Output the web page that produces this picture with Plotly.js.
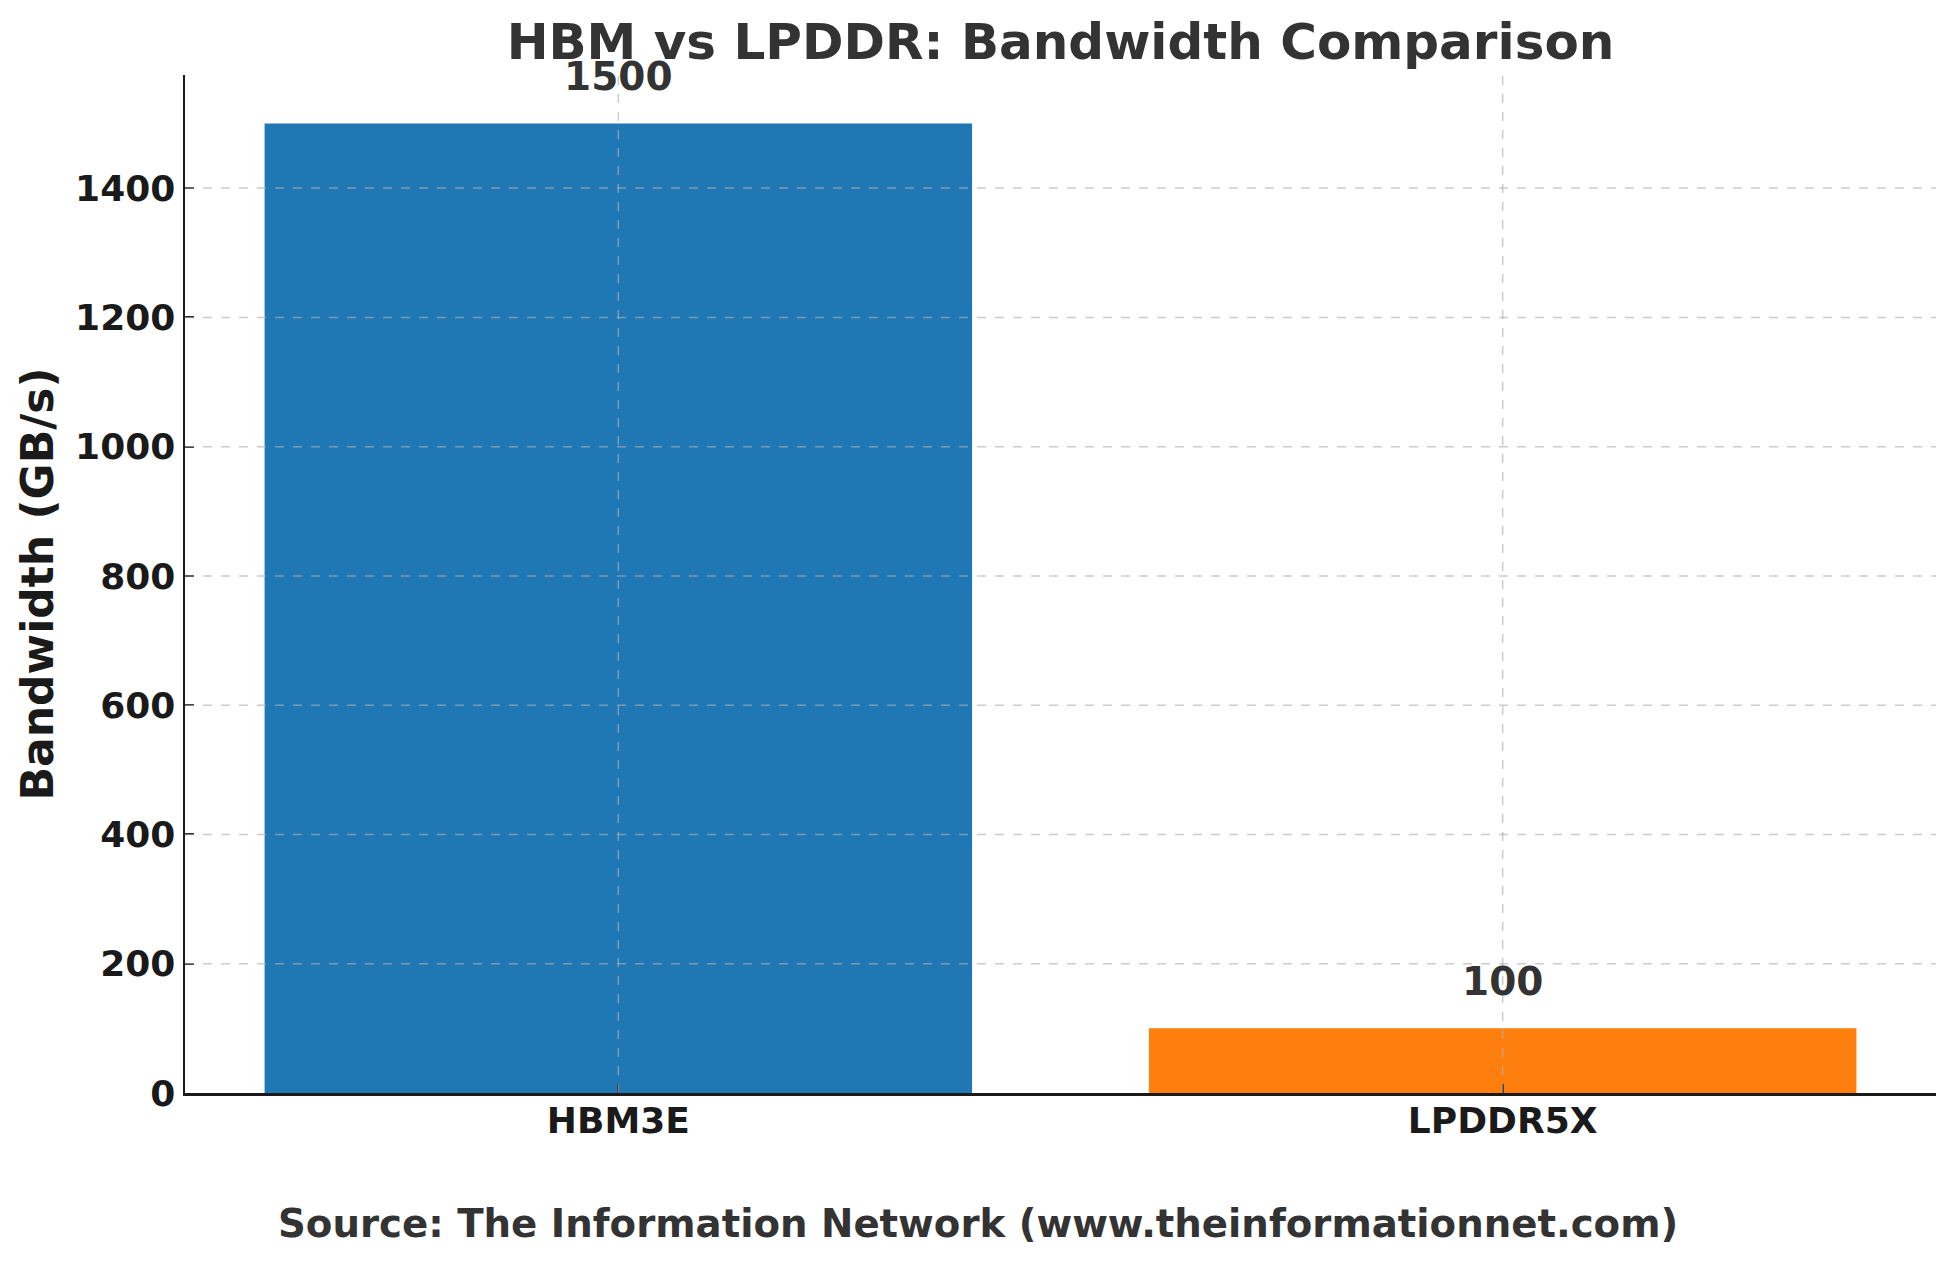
<!DOCTYPE html>
<html>
<head>
<meta charset="utf-8">
<script src="https://cdn.plot.ly/plotly-3.0.1.min.js"></script>
<style>
  html, body { margin: 0; padding: 0; background: #fff; }
  #plot { width: 1956px; height: 1266px; }
</style>
</head>
<body>
<div id="plot"></div>
<script>
// memory types and their bandwidth
var memTypes = ['HBM3E', 'LPDDR5X'];
var bandwidth = [1500, 100];
var barColors = ['#1f77b4', '#ff7f0e'];
var yTicks = [0, 200, 400, 600, 800, 1000, 1200, 1400];

var font = 'DejaVu Sans, Verdana, sans-serif';

var trace = {
  x: memTypes,
  y: bandwidth,
  type: 'bar',
  marker: { color: barColors },
  hoverinfo: 'x+y'
};

// value labels above the bars
var labels = memTypes.map(function (m, i) {
  return {
    x: m, y: bandwidth[i], xref: 'x', yref: 'y',
    text: String(bandwidth[i]),
    showarrow: false, yanchor: 'bottom', yshift: 22,
    font: { family: font, size: 39, color: '#333333', weight: 'bold' }
  };
});

// source note under the chart
labels.push({
  x: 0.5, y: 0, xref: 'paper', yref: 'paper',
  xanchor: 'center', yanchor: 'top',
  // centred on the whole figure, not the plot area
  xshift: (20 - 185) / 2,
  yshift: -106,
  text: 'Source: The Information Network (www.theinformationnet.com)',
  showarrow: false,
  font: { family: font, size: 38.7, color: '#333333', weight: 'bold' }
});

// dashed grid drawn over the bars (matplotlib style)
var grid = [];
yTicks.forEach(function (t) {
  if (t === 0) return;
  grid.push({
    type: 'line', layer: 'above', xref: 'paper', yref: 'y',
    x0: 0, x1: 1, y0: t, y1: t,
    line: { color: 'rgba(176,176,176,0.65)', width: 1.5, dash: 'dash' }
  });
});
memTypes.forEach(function (m) {
  grid.push({
    type: 'line', layer: 'above', xref: 'x', yref: 'paper',
    x0: m, x1: m, y0: 0, y1: 1,
    line: { color: 'rgba(176,176,176,0.65)', width: 1.5, dash: 'dash' }
  });
});

var layout = {
  width: 1956,
  height: 1266,
  margin: { l: 185, r: 20, t: 75, b: 173 },
  paper_bgcolor: '#ffffff',
  plot_bgcolor: '#ffffff',
  showlegend: false,
  bargap: 0.2,
  title: {
    text: 'HBM vs LPDDR: Bandwidth Comparison',
    font: { family: font, size: 50, color: '#333333', weight: 'bold' },
    x: 0.5, xref: 'paper', xanchor: 'center',
    y: 1 - 41 / 1266, yanchor: 'middle'
  },
  xaxis: {
    type: 'category',
    range: [-0.49, 1.49],
    showgrid: false,
    showline: true, linecolor: '#1a1a1a', linewidth: 2.5,
    ticks: 'inside', ticklen: 9, tickwidth: 2, tickcolor: '#1a1a1a',
    ticklabelstandoff: -6,
    tickfont: { family: font, size: 36, color: '#1a1a1a', weight: 'bold' },
    zeroline: false
  },
  yaxis: {
    range: [0, 1575],
    tickvals: yTicks,
    showgrid: false,
    zeroline: false,
    showline: true, linecolor: '#1a1a1a', linewidth: 2.5,
    ticks: 'inside', ticklen: 9, tickwidth: 2, tickcolor: '#1a1a1a',
    tickfont: { family: font, size: 36, color: '#1a1a1a', weight: 'bold' },
    title: {
      text: 'Bandwidth (GB/s)',
      font: { family: font, size: 44, color: '#1a1a1a', weight: 'bold' },
      standoff: 8
    }
  },
  annotations: labels,
  shapes: grid
};

Plotly.newPlot('plot', [trace], layout, { displayModeBar: false, staticPlot: true });
</script>
</body>
</html>
